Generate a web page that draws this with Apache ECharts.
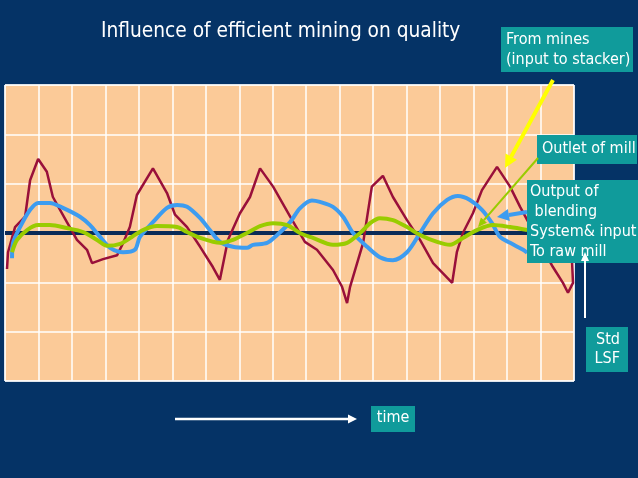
<!DOCTYPE html>
<html>
<head>
<meta charset="utf-8">
<script src="https://cdn.jsdelivr.net/npm/echarts@6/dist/echarts.min.js"></script>
<style>
  html, body { margin: 0; padding: 0; background: #053366; }
  #chart { width: 638px; height: 478px; }
</style>
</head>
<body>
<div id="chart"></div>
<script>
// time positions (grid columns) and LSF values
const minesT = [0.06, 0.09, 0.30, 0.60, 0.75, 0.99, 1.25, 1.43, 1.85, 2.15, 2.45, 2.60, 2.93, 3.35, 3.53, 3.73, 3.94, 4.42, 4.84, 5.08, 5.44, 5.83, 6.21, 6.42, 6.66, 7.02, 7.32, 7.62, 8.01, 8.52, 8.96, 9.32, 9.80, 10.07, 10.22, 10.31, 10.70, 10.96, 11.29, 11.59, 12.01, 12.40, 12.79, 13.36, 13.50, 13.68, 13.98, 14.25, 14.70, 15.09, 15.39, 15.89, 16.37, 16.67, 16.82, 16.97, 16.94];
const minesV = [2.27, 2.61, 3.12, 3.33, 4.07, 4.50, 4.24, 3.73, 3.22, 2.86, 2.66, 2.39, 2.47, 2.55, 2.80, 3.12, 3.77, 4.31, 3.81, 3.37, 3.12, 2.72, 2.31, 2.05, 2.86, 3.40, 3.73, 4.31, 3.94, 3.33, 2.82, 2.66, 2.25, 1.91, 1.58, 1.91, 2.80, 3.94, 4.16, 3.73, 3.26, 2.86, 2.39, 1.99, 2.61, 3.00, 3.40, 3.87, 4.34, 3.94, 3.53, 2.90, 2.31, 1.99, 1.79, 1.99, 2.45];

const blendT = [0.21, 0.24, 0.45, 0.75, 0.99, 1.34, 1.73, 2.24, 2.54, 2.84, 3.14, 3.53, 3.88, 4.03, 4.42, 4.84, 5.14, 5.44, 5.83, 6.12, 6.42, 6.81, 7.23, 7.41, 7.83, 8.13, 8.52, 8.81, 9.17, 9.41, 9.80, 10.10, 10.40, 10.82, 11.20, 11.59, 12.01, 12.40, 12.79, 13.21, 13.53, 13.89, 14.25, 14.55, 14.79, 15.09, 15.48, 15.60];
const blendV = [2.49, 2.80, 3.12, 3.47, 3.61, 3.61, 3.51, 3.33, 3.16, 2.92, 2.70, 2.61, 2.66, 2.92, 3.22, 3.51, 3.57, 3.53, 3.30, 3.06, 2.82, 2.72, 2.70, 2.76, 2.80, 2.96, 3.22, 3.50, 3.66, 3.63, 3.53, 3.33, 3.00, 2.72, 2.51, 2.45, 2.61, 3.00, 3.40, 3.67, 3.75, 3.67, 3.47, 3.20, 2.92, 2.80, 2.66, 2.60];

const millT = [0.21, 0.36, 0.66, 0.99, 1.34, 1.85, 2.33, 2.75, 3.05, 3.44, 3.79, 4.12, 4.54, 5.14, 5.44, 5.83, 6.42, 6.81, 7.23, 7.62, 8.01, 8.43, 8.81, 9.20, 9.80, 10.22, 10.61, 10.91, 11.20, 11.59, 12.01, 12.40, 12.91, 13.30, 13.68, 14.10, 14.58, 15.09, 15.60];
const millV = [2.61, 2.86, 3.06, 3.16, 3.16, 3.10, 3.02, 2.86, 2.74, 2.78, 2.92, 3.06, 3.14, 3.12, 3.02, 2.90, 2.80, 2.86, 3.00, 3.14, 3.20, 3.16, 3.00, 2.90, 2.76, 2.80, 3.00, 3.20, 3.30, 3.26, 3.12, 2.96, 2.82, 2.76, 2.90, 3.06, 3.16, 3.12, 3.06];

const stdLSF = 3;
const timeSpan = [0, 17];

const pairs = (t, v) => t.map((x, i) => [x, v[i]]);

const TEAL = '#109b9b';
const FONT = 'DejaVu Sans Condensed';

// label boxes
function box(x, y, w, h, lines, tx, ty, lh, align) {
    return [
        { type: 'rect', shape: { x: x, y: y, width: w, height: h }, style: { fill: TEAL }, z: 10 },
        {
            type: 'text', x: tx, y: ty, z: 11,
            style: {
                text: lines.join('\n'), fill: '#fff', font: '16px "' + FONT + '"',
                lineHeight: lh, align: align || 'left', verticalAlign: 'top'
            }
        }
    ];
}

// arrow: line plus a triangle head at (x2, y2)
function arrow(x1, y1, x2, y2, color, width, headLen, headHalf) {
    const dx = x2 - x1, dy = y2 - y1;
    const len = Math.sqrt(dx * dx + dy * dy);
    const ux = dx / len, uy = dy / len;
    const bx = x2 - ux * headLen, by = y2 - uy * headLen;
    return [
        { type: 'line', z: 12, shape: { x1: x1, y1: y1, x2: bx, y2: by }, style: { stroke: color, lineWidth: width } },
        {
            type: 'polygon', z: 12,
            shape: { points: [[x2, y2], [bx - uy * headHalf, by + ux * headHalf], [bx + uy * headHalf, by - ux * headHalf]] },
            style: { fill: color }
        }
    ];
}

const graphics = [].concat(
    box(501, 27, 132, 45, ['From mines', '(input to stacker)'], 506, 30, 20),
    box(537, 135, 100, 29, ['Outlet of mill'], 542, 139, 20),
    box(527, 180, 111, 83, ['Output of', ' blending', 'System& input', 'To raw mill'], 530, 182, 20),
    box(586, 327, 42, 45, ['Std', 'LSF'], 620, 330, 19, 'right'),
    box(371, 406, 44, 26, ['time'], 393, 409, 18, 'center'),
    arrow(553, 80, 505, 168, '#ffff00', 4, 13, 6.5),
    arrow(538, 158, 478, 227, '#99cc00', 2, 9, 4),
    arrow(527, 212, 497, 217, '#3d9cf0', 4, 12, 6),
    arrow(585, 318, 585, 252, '#ffffff', 2, 9, 4),
    arrow(175, 419, 357, 419, '#ffffff', 2.5, 9, 4.5)
);

const chart = echarts.init(document.getElementById('chart'));
chart.setOption({
    backgroundColor: '#053366',
    animation: false,
    title: {
        text: 'Influence of efficient mining on quality',
        left: 96, top: 16,
        textStyle: { color: '#fff', fontSize: 20.7, fontWeight: 'normal', fontFamily: FONT }
    },
    grid: {
        left: 5, right: 64, top: 85, bottom: 97,
        show: true, backgroundColor: '#fbca98', borderColor: '#ffffff', borderWidth: 1
    },
    xAxis: {
        type: 'value', min: timeSpan[0], max: timeSpan[1], interval: 1,
        axisLine: { show: false }, axisTick: { show: false }, axisLabel: { show: false },
        splitLine: { lineStyle: { color: '#ffffff', width: 1.5 } }
    },
    yAxis: {
        type: 'value', min: 0, max: 6, interval: 1,
        axisLine: { show: false }, axisTick: { show: false }, axisLabel: { show: false },
        splitLine: { lineStyle: { color: '#ffffff', width: 1.5 } }
    },
    series: [
        {
            name: 'Std LSF', type: 'line', showSymbol: false, silent: true,
            data: [[timeSpan[0], stdLSF], [timeSpan[1], stdLSF]],
            lineStyle: { color: '#0b2b57', width: 4 }
        },
        {
            name: 'From mines', type: 'line', showSymbol: false,
            data: pairs(minesT, minesV),
            lineStyle: { color: '#99103a', width: 2.5 }
        },
        {
            name: 'Output of blending', type: 'line', showSymbol: false, smooth: 0.3,
            data: pairs(blendT, blendV),
            lineStyle: { color: '#3d9cf0', width: 4 }
        },
        {
            name: 'Outlet of mill', type: 'line', showSymbol: false, smooth: 0.3,
            data: pairs(millT, millV),
            lineStyle: { color: '#99cc00', width: 4 }
        }
    ],
    graphic: graphics
});
</script>
</body>
</html>
